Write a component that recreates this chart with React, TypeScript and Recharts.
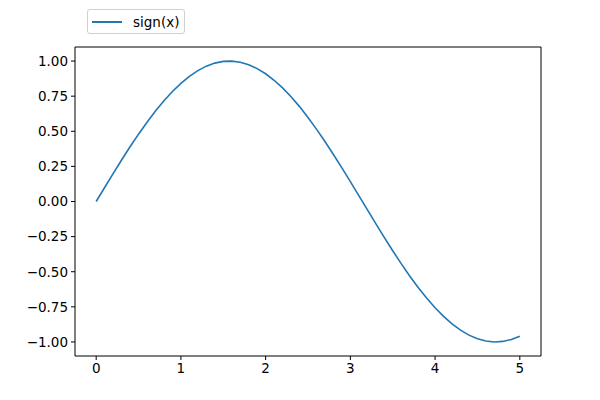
import React from "react";
import { LineChart, Line, XAxis, YAxis, ReferenceLine, Legend } from "recharts";

const xValues = [0, 0.1, 0.2, 0.3, 0.4, 0.5, 0.6, 0.7, 0.8, 0.9, 1.0, 1.1, 1.2, 1.3, 1.4, 1.5, 1.6, 1.7, 1.8, 1.9, 2.0, 2.1, 2.2, 2.3, 2.4, 2.5, 2.6, 2.7, 2.8, 2.9, 3.0, 3.1, 3.2, 3.3, 3.4, 3.5, 3.6, 3.7, 3.8, 3.9, 4.0, 4.1, 4.2, 4.3, 4.4, 4.5, 4.6, 4.7, 4.8, 4.9, 5.0];
const yValues = [0, 0.0998, 0.1987, 0.2955, 0.3894, 0.4794, 0.5646, 0.6442, 0.7174, 0.7833, 0.8415, 0.8912, 0.932, 0.9636, 0.9854, 0.9975, 0.9996, 0.9917, 0.9738, 0.9463, 0.9093, 0.8632, 0.8085, 0.7457, 0.6755, 0.5985, 0.5155, 0.4274, 0.335, 0.2392, 0.1411, 0.0416, -0.0584, -0.1577, -0.2555, -0.3508, -0.4425, -0.5298, -0.6119, -0.6878, -0.7568, -0.8183, -0.8716, -0.9162, -0.9516, -0.9775, -0.9937, -0.9999, -0.9962, -0.9825, -0.9589];
const xTicks = [0, 1, 2, 3, 4, 5];
const yTicks = [-1, -0.75, -0.5, -0.25, 0, 0.25, 0.5, 0.75, 1];
const seriesName = "sign(x)";

const data = xValues.map((x, i) => ({ x, y: yValues[i] }));

const FONT = "DejaVu Sans, sans-serif";
const fmtY = (v: number) => (v < 0 ? "\u2212" + Math.abs(v).toFixed(2) : v.toFixed(2));

const LegendBox = () => (
  <div
    style={{
      position: "absolute",
      left: 87,
      top: 9,
      width: 98,
      height: 25,
      border: "1px solid #d0d0d0",
      borderRadius: 3,
      background: "white",
      fontFamily: FONT,
      fontSize: 13.5,
      display: "flex",
      alignItems: "center",
      boxSizing: "border-box",
    }}
  >
    <div style={{ marginLeft: 4, width: 30, height: 2, background: "#1f77b4" }} />
    <span style={{ marginLeft: 11, color: "#000" }}>{seriesName}</span>
  </div>
);

export default function App() {
  return (
    <div style={{ position: "absolute", left: 0, top: 0, width: 600, height: 400, background: "white" }}>
      <LineChart width={600} height={400} data={data} margin={{ top: 47, right: 59, bottom: 0, left: 0 }}>
        <XAxis
          dataKey="x"
          type="number"
          domain={[-0.25, 5.25]}
          ticks={xTicks}
          allowDataOverflow
          height={44}
          stroke="#000"
          tickSize={4}
          tick={{ fill: "#000", fontSize: 13.5, fontFamily: FONT }}
          tickMargin={3}
        />
        <YAxis
          type="number"
          domain={[-1.1, 1.1]}
          ticks={yTicks}
          allowDataOverflow
          width={75}
          stroke="#000"
          tickSize={4}
          tickMargin={3}
          tickFormatter={fmtY}
          tick={{ fill: "#000", fontSize: 13.5, fontFamily: FONT }}
        />
        <ReferenceLine x={5.25} stroke="#000" strokeWidth={1} ifOverflow="visible" />
        <ReferenceLine y={1.1} stroke="#000" strokeWidth={1} ifOverflow="visible" />
        <Legend content={<LegendBox />} wrapperStyle={{ position: "absolute", left: 0, top: 0 }} />
        <Line
          dataKey="y"
          name={seriesName}
          type="linear"
          stroke="#1f77b4"
          strokeWidth={1.6}
          dot={false}
          isAnimationActive={false}
        />
      </LineChart>
    </div>
  );
}
